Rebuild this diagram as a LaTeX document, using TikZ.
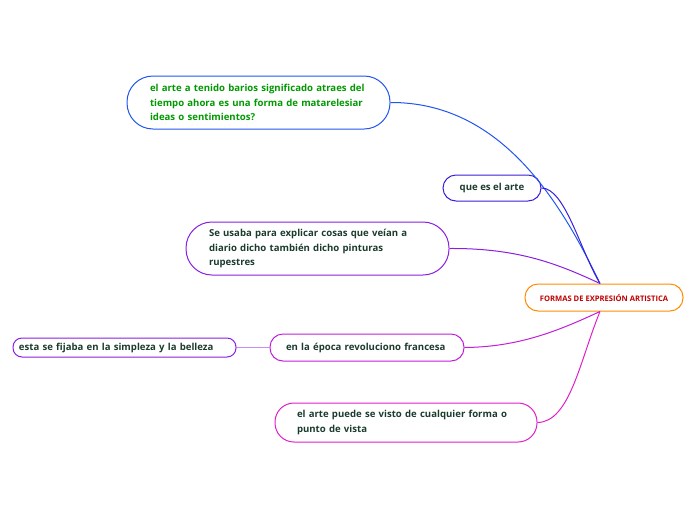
\documentclass[tikz,border=0pt]{standalone}
\usepackage{fontspec}
\setmainfont{Open Sans}
\begin{document}
\begin{tikzpicture}[x=1pt,y=-1pt,
 box/.style={draw,line width=1pt,rounded corners=13pt,font=\bfseries\fontsize{9.6}{14.5}\selectfont,text=dtext,align=left,inner sep=0pt},
 con/.style={line width=1pt}]
\definecolor{dtext}{HTML}{1B3B2C}
\definecolor{cblue}{HTML}{2155F0}
\definecolor{cind}{HTML}{3A1FD8}
\definecolor{cpur}{HTML}{8A1FE0}
\definecolor{cmag}{HTML}{C21FD8}
\definecolor{cpink}{HTML}{E01FC8}
\useasboundingbox (0,0) rectangle (696,520);
\node[box,draw=orange!90!yellow,rounded corners=13pt,minimum width=158pt,minimum height=27pt,text=red!75!black,font=\bfseries\fontsize{7.6}{8}\selectfont] (c) at (604,297.5) {FORMAS DE EXPRESIÓN ARTISTICA};
\node[box,draw=cblue,rounded corners=26pt,minimum width=263pt,minimum height=53pt,text=green!60!black,text width=217pt] (a) at (258.5,102.5) {el arte a tenido barios significado atraes del\\tiempo ahora es una forma de matarelesiar\\ideas o sentimientos?};
\node[box,draw=cind,minimum width=98pt,minimum height=26pt,align=center] (b) at (492,188) {que es el arte};
\node[box,draw=cpur,rounded corners=26pt,minimum width=263pt,minimum height=53pt,text width=217pt] (d) at (317.5,248.5) {Se usaba para explicar cosas que veían a\\diario dicho también dicho pinturas\\rupestres};
\node[box,draw=cmag,minimum width=194pt,minimum height=27pt,text width=162pt] (e) at (367,347.5) {en la época revoluciono francesa};
\node[box,draw=cpur,rounded corners=9pt,minimum width=223pt,minimum height=19pt,text width=211pt] (f) at (124.5,347.5) {esta se fijaba en la simpleza y la belleza};
\node[box,draw=cpink,rounded corners=19pt,minimum width=262pt,minimum height=39pt,text width=218pt] (g) at (406,422.5) {el arte puede se visto de cualquier forma o\\punto de vista};
\draw[con,cblue] (a.east) .. controls (500,102) and (560,200) .. (c.north-|600,0);
\draw[con,cind] (b.east) .. controls (565,188) and (580,250) .. (c.north-|600,0);
\draw[con,cpur] (d.east) .. controls (520,248) and (560,265) .. (c.north-|600,0);
\draw[con,cmag] (e.east) .. controls (520,347) and (560,330) .. (c.south-|600,0);
\draw[con,cpink] (g.east) .. controls (570,422) and (580,360) .. (c.south-|600,0);
\draw[con,cpur!50] (f.east) -- (e.west);
\end{tikzpicture}
\end{document}
